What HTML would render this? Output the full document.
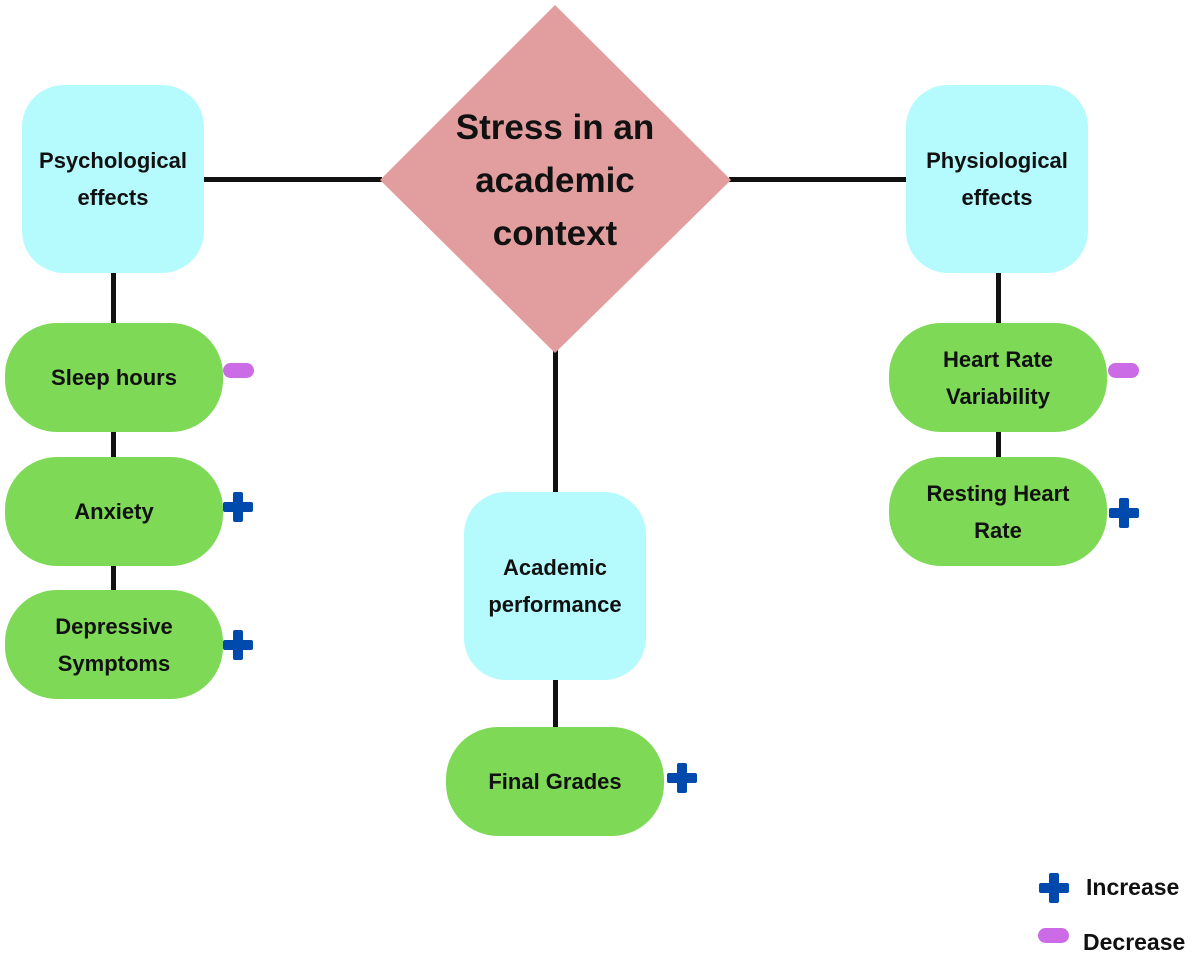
<!DOCTYPE html>
<html><head><meta charset="utf-8"><style>
body{margin:0;width:1200px;height:955px;background:#fff;position:relative;overflow:hidden;font-family:"Liberation Sans",sans-serif;font-weight:bold;color:#111}
.b{position:absolute;display:flex;align-items:center;justify-content:center;text-align:center;font-size:22px;line-height:37px}
.c{background:#b5fbfd;border-radius:42px;width:182px;height:188px}
.g{background:#7ed957;border-radius:52px;width:218px;height:109px}
.l{position:absolute;background:#111}
.m{position:absolute;width:31px;height:15px;border-radius:8px;background:#cb6ce6}
.p{position:absolute;width:30px;height:30px}
.p:before,.p:after{content:"";position:absolute;background:#004aad;border-radius:2px}
.p:before{left:10px;top:0;width:10px;height:30px}
.p:after{left:0;top:10px;width:30px;height:10px}
</style></head><body>
<div class="l" style="left:204px;top:177px;width:178px;height:5px"></div>
<div class="l" style="left:729px;top:177px;width:178px;height:5px"></div>
<div class="l" style="left:111px;top:272px;width:5px;height:330px"></div>
<div class="l" style="left:996px;top:272px;width:5px;height:200px"></div>
<div class="l" style="left:553px;top:350px;width:5px;height:380px"></div>
<svg style="position:absolute;left:0;top:0" width="1200" height="955"><polygon points="555,5 731,180 555,353 380,180" fill="#e29e9e"/></svg>
<div class="b" style="left:405px;top:100px;width:300px;height:160px;font-size:35px;line-height:53px">Stress in an<br>academic<br>context</div>
<div class="b c" style="left:22px;top:85px">Psychological<br>effects</div>
<div class="b c" style="left:906px;top:85px">Physiological<br>effects</div>
<div class="b c" style="left:464px;top:492px">Academic<br>performance</div>
<div class="b g" style="left:5px;top:323px">Sleep hours</div>
<div class="b g" style="left:5px;top:457px">Anxiety</div>
<div class="b g" style="left:5px;top:590px">Depressive<br>Symptoms</div>
<div class="b g" style="left:889px;top:323px">Heart Rate<br>Variability</div>
<div class="b g" style="left:889px;top:457px">Resting Heart<br>Rate</div>
<div class="b g" style="left:446px;top:727px">Final Grades</div>
<div class="m" style="left:223px;top:363px"></div>
<div class="m" style="left:1108px;top:363px"></div>
<div class="p" style="left:223px;top:492px"></div>
<div class="p" style="left:223px;top:630px"></div>
<div class="p" style="left:1109px;top:498px"></div>
<div class="p" style="left:667px;top:763px"></div>
<div class="p" style="left:1039px;top:873px"></div>
<div class="m" style="left:1038px;top:928px"></div>
<div class="b" style="left:1086px;top:872px;font-size:23px;line-height:30px">Increase</div>
<div class="b" style="left:1083px;top:927px;font-size:23px;line-height:30px">Decrease</div>
</body></html>
